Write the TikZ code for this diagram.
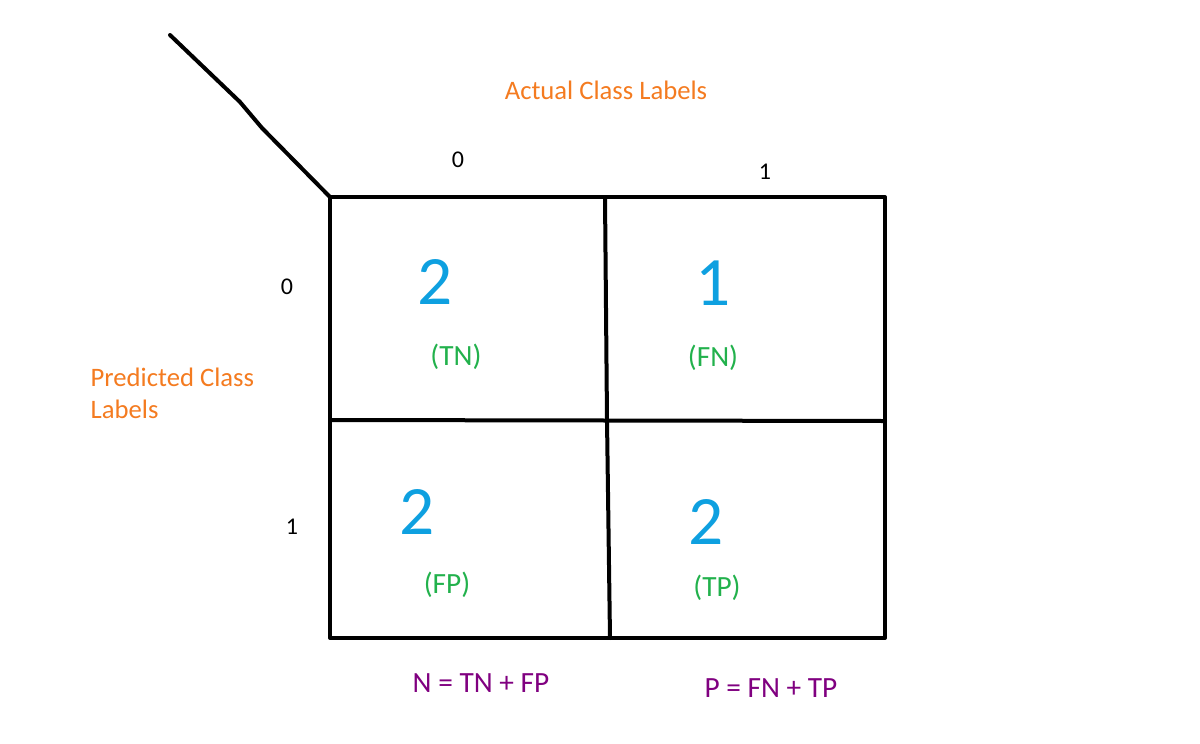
\documentclass[tikz,border=0pt]{standalone}
\usepackage{fontspec}
\setmainfont{Carlito}
\definecolor{org}{HTML}{F47B20}
\definecolor{blu}{HTML}{0EA0E0}
\definecolor{grn}{HTML}{22B14C}
\definecolor{pur}{HTML}{800080}
\begin{document}
\begin{tikzpicture}[x=0.75pt,y=-0.75pt,
  ln/.style={line width=3pt,line cap=round,line join=round},
  ttl/.style={text=org,font=\fontsize{20}{24}\selectfont},
  ax/.style={font=\fontsize{18}{22}\selectfont},
  num/.style={text=blu,font=\fontsize{52}{60}\selectfont},
  cls/.style={text=grn,font=\fontsize{22}{26}\selectfont},
  sm/.style={text=pur,font=\fontsize{22}{26}\selectfont}]
\useasboundingbox (0,0) rectangle (1200,743);
\coordinate (d0) at (170,35);
\coordinate (d1) at (240,102);
\coordinate (d2) at (262,128);
\coordinate (tl) at (330,197);
\coordinate (br) at (885,638);
\coordinate (vt) at (605,197);
\coordinate (vb) at (610,638);
\coordinate (hl) at (330,420);
\coordinate (hr) at (885,421);
\draw[ln] (d0) -- (d1) -- (d2) -- (tl);
\draw[ln] (tl) rectangle (br);
\draw[ln] (vt) -- (607,420) -- (vb);
\draw[ln] (hl) -- (hr);
\node[ttl] (act) at (606,90) {Actual Class Labels};
\node[ax] (c0) at (458,160) {0};
\node[ax] (c1) at (765,172) {1};
\node[ax] (r0) at (287,287) {0};
\node[ax] (r1) at (292,527) {1};
\node[ttl,anchor=west,align=left] (pred) at (86,393) {Predicted Class\\Labels};
\node[num] (n00) at (435,282) {2};
\node[num] (n01) at (713,283) {1};
\node[num] (n10) at (417,512) {2};
\node[num] (n11) at (706,522) {2};
\node[cls] (tn) at (456,357) {(TN)};
\node[cls] (fn) at (713,358) {(FN)};
\node[cls] (fp) at (447,585) {(FP)};
\node[cls] (tp) at (717,588) {(TP)};
\node[sm] (N) at (481,683) {N = TN + FP};
\node[sm] (P) at (771,688) {P = FN + TP};
\end{tikzpicture}
\end{document}
